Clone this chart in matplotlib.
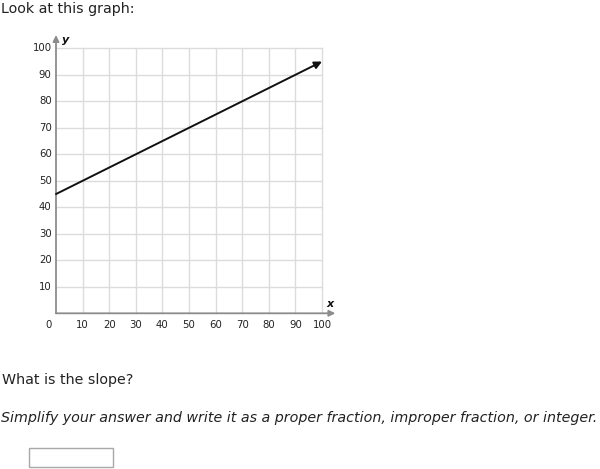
import matplotlib
matplotlib.use("Agg")
import matplotlib.pyplot as plt
from matplotlib.patches import Rectangle
import numpy as np

# Data
line_x = [0, 100]
line_y = [45, 95]
x_ticks = [10, 20, 30, 40, 50, 60, 70, 80, 90, 100]
y_ticks = [10, 20, 30, 40, 50, 60, 70, 80, 90, 100]

W, H = 600, 469
fig = plt.figure(figsize=(W / 100, H / 100), dpi=100)
plt.rcParams['font.family'] = ['DejaVu Sans']

def fx(px):
    return px / W

def fy(py):
    return 1 - py / H

# axes: x 0..100 spans px 56..322, y 0..100 spans py 313..48
ax = fig.add_axes([fx(56), fy(313.3), (322 - 56) / W, (313.3 - 48.3) / H])
ax.set_xlim(0, 100)
ax.set_ylim(0, 100)
for s in ax.spines.values():
    s.set_visible(False)
ax.set_xticks([])
ax.set_yticks([])

grid_c = '#dcdcdc'
for v in x_ticks:
    ax.plot([v, v], [0, 100], color=grid_c, lw=1.0, zorder=1, clip_on=False)
for v in y_ticks:
    ax.plot([0, 100], [v, v], color=grid_c, lw=1.0, zorder=1, clip_on=False)

axis_c = '#8c8c8c'
ax.annotate('', xy=(105, 0), xytext=(0, 0),
            arrowprops=dict(arrowstyle='-|>', color=axis_c, lw=1.3,
                            mutation_scale=9, shrinkA=0, shrinkB=0),
            annotation_clip=False, zorder=3)
ax.annotate('', xy=(0, 105), xytext=(0, 0),
            arrowprops=dict(arrowstyle='-|>', color=axis_c, lw=1.3,
                            mutation_scale=9, shrinkA=0, shrinkB=0),
            annotation_clip=False, zorder=3)

ax.annotate('', xy=(line_x[1], line_y[1]), xytext=(line_x[0], line_y[0]),
            arrowprops=dict(arrowstyle='-|>', color='#111111', lw=1.4,
                            mutation_scale=11, shrinkA=0, shrinkB=0),
            annotation_clip=False, zorder=4)

tick_fs = 7.3
tick_c = '#222222'
for v in x_ticks:
    ax.text(v, -4.5, str(v), ha='center', va='center', fontsize=tick_fs, color=tick_c, clip_on=False)
for v in y_ticks:
    ax.text(-1.6, v, str(v), ha='right', va='center', fontsize=tick_fs, color=tick_c, clip_on=False)
ax.text(-2.8, -4.5, '0', ha='center', va='center', fontsize=tick_fs, color=tick_c, clip_on=False)

ax.text(103, 3.5, 'x', ha='center', va='center', fontsize=8, fontweight='bold',
        style='italic', color='#111111', clip_on=False)
ax.text(3.5, 103, 'y', ha='center', va='center', fontsize=8, fontweight='bold',
        style='italic', color='#111111', clip_on=False)

txt_c = '#222222'
fs = 10.3
fig.text(fx(1), fy(9.5), 'Look at this graph:', ha='left', va='center', fontsize=fs, color=txt_c)
fig.text(fx(2), fy(380), 'What is the slope?', ha='left', va='center', fontsize=fs, color=txt_c)
fig.text(fx(1), fy(418), 'Simplify your answer and write it as a proper fraction, improper fraction, or integer.',
         ha='left', va='center', fontsize=fs, style='italic', color=txt_c)

fig.patches.append(Rectangle((fx(29), fy(467)), (113 - 29) / W, (467 - 448) / H,
                             transform=fig.transFigure, fill=False,
                             edgecolor='#a8a8a8', lw=1.0))

fig.savefig('out.png', dpi=100)
